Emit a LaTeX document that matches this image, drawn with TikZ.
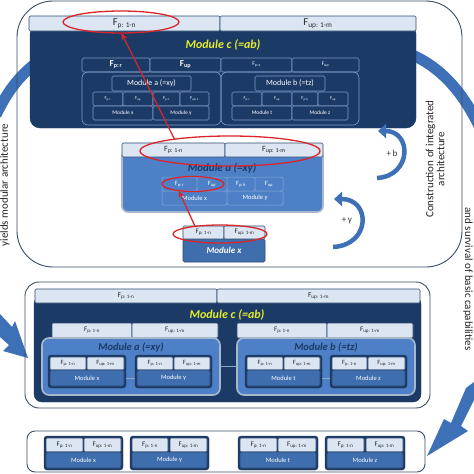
\documentclass[tikz,border=0pt]{standalone}
\usepackage{fontspec}
\setmainfont{Carlito}
\usetikzlibrary{shapes.geometric,arrows.meta}
\definecolor{navy}{HTML}{1B3A66}
\definecolor{navyline}{HTML}{7F9BC4}
\definecolor{lightF}{HTML}{DCE6F2}
\definecolor{fbord}{HTML}{2E4A70}
\definecolor{medblue}{HTML}{4D80C6}
\definecolor{medline}{HTML}{86A9DA}
\definecolor{modblue}{HTML}{3F6EAE}
\definecolor{silver}{HTML}{A9B7CB}
\definecolor{panelline}{HTML}{3B4E63}
\definecolor{arrowblue}{HTML}{3D70B6}
\definecolor{yel}{HTML}{E5EE2B}
\definecolor{redc}{HTML}{D9262B}
\definecolor{connc}{HTML}{8FA7C7}
\newcommand\fsz[1]{\fontsize{#1}{#1}\selectfont}
\newcommand\Fl[1]{F\textsubscript{#1}}
\newcommand\mybox[7]{%
 \pgfmathsetmacro\mbw{#5-(#3)}%
 \pgfmathsetmacro\mbh{#6-(#4)}%
 \pgfmathsetmacro\mbx{(#3+#5)/2}%
 \pgfmathsetmacro\mby{(#4+#6)/2}%
 \node[rectangle,#1,minimum width=\mbw pt,minimum height=\mbh pt] (#2) at (\mbx,\mby) {#7};}
\begin{document}
\begin{tikzpicture}[x=1pt,y=-1pt,
 every node/.style={inner sep=0pt,outer sep=0pt,align=center},
 panel/.style={draw=panelline,line width=0.9pt},
 fl/.style={draw=fbord,fill=lightF,line width=0.6pt,rounded corners=1.2pt,text=black!85},
 fn/.style={draw=navyline,fill=navy,line width=0.6pt,rounded corners=1.5pt,text=white},
 fnout/.style={draw=navyline,line width=0.6pt,rounded corners=6pt},
 fm/.style={draw=medline,fill=medblue,line width=0.5pt,rounded corners=1.5pt,text=white},
 mb/.style={draw=fbord,fill=modblue,line width=0.6pt,rounded corners=1.5pt,text=white},
 navybox/.style={fill=navy,draw=navy,rounded corners=10pt},
 medbox/.style={fill=medblue,draw=silver,line width=1.6pt,rounded corners=6pt},
 unitbg/.style={fill=navy,draw=navy,rounded corners=3pt},
 redell/.style={ellipse,draw=redc,line width=1.3pt},
 redarr/.style={draw=redc,line width=1.3pt,-{Stealth[length=7pt,width=6pt]}},
 bluearc/.style={draw=arrowblue,line width=4.5pt,-{Triangle[length=8pt,width=14pt]}},
 bigarc/.style={draw=arrowblue,line width=11pt},
 conn/.style={draw=connc,line width=0.9pt},
 sidetxt/.style={font=\fsz{11},text=black!85}
]
\useasboundingbox (0,0) rectangle (474,474);
\clip (0,0) rectangle (474,474);
\fill[white] (0,0) rectangle (474,474);

% big blue arcs and lightning arrows
\draw[bigarc] (-4,115) .. controls (6,94) and (18,76) .. (40,60);
\draw[bigarc] (405,52) .. controls (438,64) and (462,90) .. (480,128);
\fill[arrowblue] (0,314) -- (12,327) -- (15,321) -- (28,358) -- (3,351) -- (9,345) -- (0,337) -- cycle;
\fill[arrowblue] (474,382) -- (474,400) -- (461,426) -- (468,431) -- (427,456) -- (444,419) -- (451,423) -- (466,388) -- cycle;

% ===== top panel =====
\mybox{panel,rounded corners=36pt}{outer}{17}{1}{462}{267}{}
\mybox{navybox}{tC}{30}{24}{416}{128}{}
\mybox{fl}{tFp}{29}{16}{220}{31}{\fsz{10.5}\Fl{p: 1-n}}
\mybox{fl}{tFu}{220}{16}{416}{31}{\fsz{10.5}\Fl{up: 1-m}}
\node[font=\fsz{12}\bfseries\itshape,text=yel] (tCt) at (223,45) {Module c (=ab)};
\mybox{fn}{tC1}{82}{58}{150}{72}{\fsz{9}\bfseries\Fl{p:\,r}}
\mybox{fn}{tC2}{150}{58}{221}{72}{\fsz{9}\bfseries\Fl{up}}
\mybox{fn}{tC3}{221}{58}{292}{72}{\fsz{5.5}\Fl{p:\,x}}
\mybox{fn}{tC4}{292}{58}{359}{72}{\fsz{5.5}\Fl{up}}
\mybox{fnout}{tCa}{82}{72}{221}{125}{}
\mybox{fnout}{tCb}{221}{72}{359}{125}{}
\mybox{fn}{tCat}{112}{76}{191}{91}{\fsz{8}Module a (=xy)}
\mybox{fn}{tCbt}{255}{76}{325}{91}{\fsz{8}Module b (=tz)}
\mybox{fn}{ta1}{93}{92}{123}{106}{\fsz{4.5}\Fl{p:\,r}}
\mybox{fn}{ta2}{123}{92}{153}{106}{\fsz{4.5}\Fl{up}}
\mybox{fn}{ta3}{153}{92}{180}{106}{\fsz{4.5}\Fl{p:\,t}}
\mybox{fn}{ta4}{180}{92}{209}{106}{\fsz{4.5}\Fl{up:\,1}}
\mybox{fn}{tax}{93}{106}{153}{120}{\fsz{5.5}Module x}
\mybox{fn}{tay}{153}{106}{209}{120}{\fsz{5.5}Module y}
\mybox{fn}{tb1}{232}{92}{262}{106}{\fsz{4.5}\Fl{p:\,r}}
\mybox{fn}{tb2}{262}{92}{292}{106}{\fsz{4.5}\Fl{up}}
\mybox{fn}{tb3}{292}{92}{318}{106}{\fsz{4.5}\Fl{p:\,k}}
\mybox{fn}{tb4}{318}{92}{348}{106}{\fsz{4.5}\Fl{up}}
\mybox{fn}{tbt}{232}{106}{292}{120}{\fsz{5.5}Module t}
\mybox{fn}{tbz}{292}{106}{348}{120}{\fsz{5.5}Module z}

% module a stage
\mybox{medbox}{sA}{122}{150}{323}{212}{}
\mybox{fl}{sAp}{122}{143}{225}{157}{\fsz{8}\Fl{p: 1-n}}
\mybox{fl}{sAu}{225}{143}{323}{157}{\fsz{8}\Fl{up: 1-m}}
\node[font=\fsz{11}\bfseries\itshape,text=navy] (sAt) at (222,168) {Module a (=xy)};
\mybox{fm}{sA1}{162}{177}{197}{191}{\fsz{6.5}\Fl{p:\,r}}
\mybox{fm}{sA2}{197}{177}{227}{191}{\fsz{6.5}\Fl{up}}
\mybox{fm}{sA3}{227}{177}{255}{191}{\fsz{6.5}\Fl{p:\,k}}
\mybox{fm}{sA4}{255}{177}{283}{191}{\fsz{6.5}\Fl{up}}
\mybox{fm}{sAx}{162}{191}{227}{205}{\fsz{6.5}Module x}
\mybox{fm}{sAy}{227}{191}{283}{205}{\fsz{6.5}Module y}

% module x stage
\mybox{mb}{sX}{183}{239}{265}{262}{\fsz{9}\bfseries\itshape Module x}
\mybox{fl}{sXp}{183}{226}{224}{239}{\fsz{7}\Fl{p: 1-n}}
\mybox{fl}{sXu}{224}{226}{265}{239}{\fsz{7}\Fl{up: 1-m}}

% red ellipses and arrows
\node[redell,minimum width=116pt,minimum height=22pt] (eTop) at (121,22) {};
\node[redell,minimum width=180pt,minimum height=30pt] (eMid) at (230,151) {};
\node[redell,minimum width=62pt,minimum height=15pt] (eSub) at (193,184) {};
\node[redell,minimum width=94pt,minimum height=18pt] (eBot) at (220,234) {};
\draw[redarr] (eBot.163) -- (eSub.205);
\draw[redarr] (eMid.168) -- (eTop.272);

% +b, +y arrows
\coordinate (pb1) at (377,178);
\coordinate (pb2) at (378,131);
\draw[bluearc] (pb1) .. controls (412,176) and (412,131) .. (pb2);
\node[font=\fsz{9},text=black!80] (lb) at (392,153) {+\,b};
\coordinate (py1) at (333,247);
\coordinate (py2) at (334,199);
\draw[bluearc] (py1) .. controls (371,245) and (371,199) .. (py2);
\node[font=\fsz{9},text=black!80] (ly) at (347,221) {+\,y};

% ===== middle panel =====
\mybox{panel,rounded corners=14pt}{mid}{25}{282}{430}{408}{}
\mybox{navybox,rounded corners=8pt}{mC}{34}{296}{421}{402}{}
\mybox{fl}{mFp}{35}{289}{217}{303}{\fsz{7.5}\Fl{p: 1-n}}
\mybox{fl}{mFu}{217}{289}{420}{303}{\fsz{7.5}\Fl{up: 1-m}}
\node[font=\fsz{12}\bfseries\itshape,text=yel] (mCt) at (227,315) {Module c (=ab)};
\mybox{fl}{mAp}{52}{323}{132}{338}{\fsz{7}\Fl{p: 1-n}}
\mybox{fl}{mAu}{132}{323}{218}{338}{\fsz{7}\Fl{up: 1-m}}
\mybox{fl}{mBp}{237}{323}{327}{338}{\fsz{7}\Fl{p: 1-n}}
\mybox{fl}{mBu}{327}{323}{413}{338}{\fsz{7}\Fl{up: 1-m}}
\mybox{medbox,rounded corners=7pt}{mA}{42}{338}{220}{395}{}
\mybox{medbox,rounded corners=7pt}{mB}{237}{338}{415}{395}{}
\draw[conn] (mA.east) -- (mB.west);
\node[font=\fsz{10.5}\bfseries\itshape,text=navy] (mAt) at (131,347) {Module a (=xy)};
\node[font=\fsz{10.5}\bfseries\itshape,text=navy] (mBt) at (326,347) {Module b (=tz)};
% units in middle panel
\mybox{unitbg}{mxbg}{48}{355}{126}{388}{}
\mybox{fl}{mx1}{50}{357}{86}{370}{\fsz{6.5}\Fl{p: 1-n}}
\mybox{fl}{mx2}{87}{357}{124}{370}{\fsz{6.5}\Fl{up: 1-m}}
\mybox{mb}{mxM}{50}{370}{124}{386}{\fsz{6.5}Module x}
\mybox{unitbg}{mybg}{135}{355}{212}{388}{}
\mybox{fl}{my1}{137}{357}{173}{370}{\fsz{6.5}\Fl{p: 1-n}}
\mybox{fl}{my2}{174}{357}{210}{370}{\fsz{6.5}\Fl{up: 1-m}}
\mybox{mb}{myM}{137}{370}{210}{386}{\fsz{6.5}Module y}
\draw[conn] (mxbg.east |- mxM.east) -- (mybg.west |- myM.west);
\mybox{unitbg}{mtbg}{245}{355}{322}{388}{}
\mybox{fl}{mt1}{247}{357}{283}{370}{\fsz{6.5}\Fl{p: 1-n}}
\mybox{fl}{mt2}{284}{357}{320}{370}{\fsz{6.5}\Fl{up: 1-m}}
\mybox{mb}{mtM}{247}{370}{320}{386}{\fsz{6.5}Module t}
\mybox{unitbg}{mzbg}{330}{355}{407}{388}{}
\mybox{fl}{mz1}{332}{357}{367}{370}{\fsz{6.5}\Fl{p: 1-n}}
\mybox{fl}{mz2}{368}{357}{405}{370}{\fsz{6.5}\Fl{up: 1-m}}
\mybox{mb}{mzM}{332}{370}{405}{386}{\fsz{6.5}Module z}
\draw[conn] (mtbg.east |- mtM.east) -- (mzbg.west |- mzM.west);

% ===== bottom panel =====
\mybox{panel,rounded corners=8pt}{bot}{27}{431}{425}{472}{}
\mybox{unitbg}{bxbg}{44}{436}{123}{470}{}
\mybox{fl}{bx1}{46}{438}{83}{452}{\fsz{7}\Fl{p: 1-n}}
\mybox{fl}{bx2}{84}{438}{121}{452}{\fsz{7}\Fl{up: 1-m}}
\mybox{mb}{bxM}{46}{452}{121}{468}{\fsz{6.5}Module x}
\mybox{unitbg}{bybg}{130}{436}{209}{470}{}
\mybox{fl}{by1}{132}{438}{168}{452}{\fsz{7}\Fl{p: 1-n}}
\mybox{fl}{by2}{170}{438}{207}{452}{\fsz{7}\Fl{up: 1-m}}
\mybox{mb}{byM}{132}{452}{207}{468}{\fsz{6.5}Module y}
\mybox{unitbg}{btbg}{238}{436}{318}{470}{}
\mybox{fl}{bt1}{240}{438}{277}{452}{\fsz{7}\Fl{p: 1-n}}
\mybox{fl}{bt2}{278}{438}{316}{452}{\fsz{7}\Fl{up: 1-m}}
\mybox{mb}{btM}{240}{452}{316}{468}{\fsz{6.5}Module t}
\mybox{unitbg}{bzbg}{325}{436}{405}{470}{}
\mybox{fl}{bz1}{327}{438}{364}{452}{\fsz{7}\Fl{p: 1-n}}
\mybox{fl}{bz2}{366}{438}{403}{452}{\fsz{7}\Fl{up: 1-m}}
\mybox{mb}{bzM}{327}{452}{403}{468}{\fsz{6.5}Module z}

% side texts
\node[sidetxt,rotate=90] (cons) at (435,159) {Construction of integrated\\architecture};
\node[sidetxt,rotate=-90] (surv) at (468,279) {and survival of basic capabilities};
\node[sidetxt,rotate=90] (yld) at (5,185) {yields modular architecture};
\end{tikzpicture}
\end{document}
